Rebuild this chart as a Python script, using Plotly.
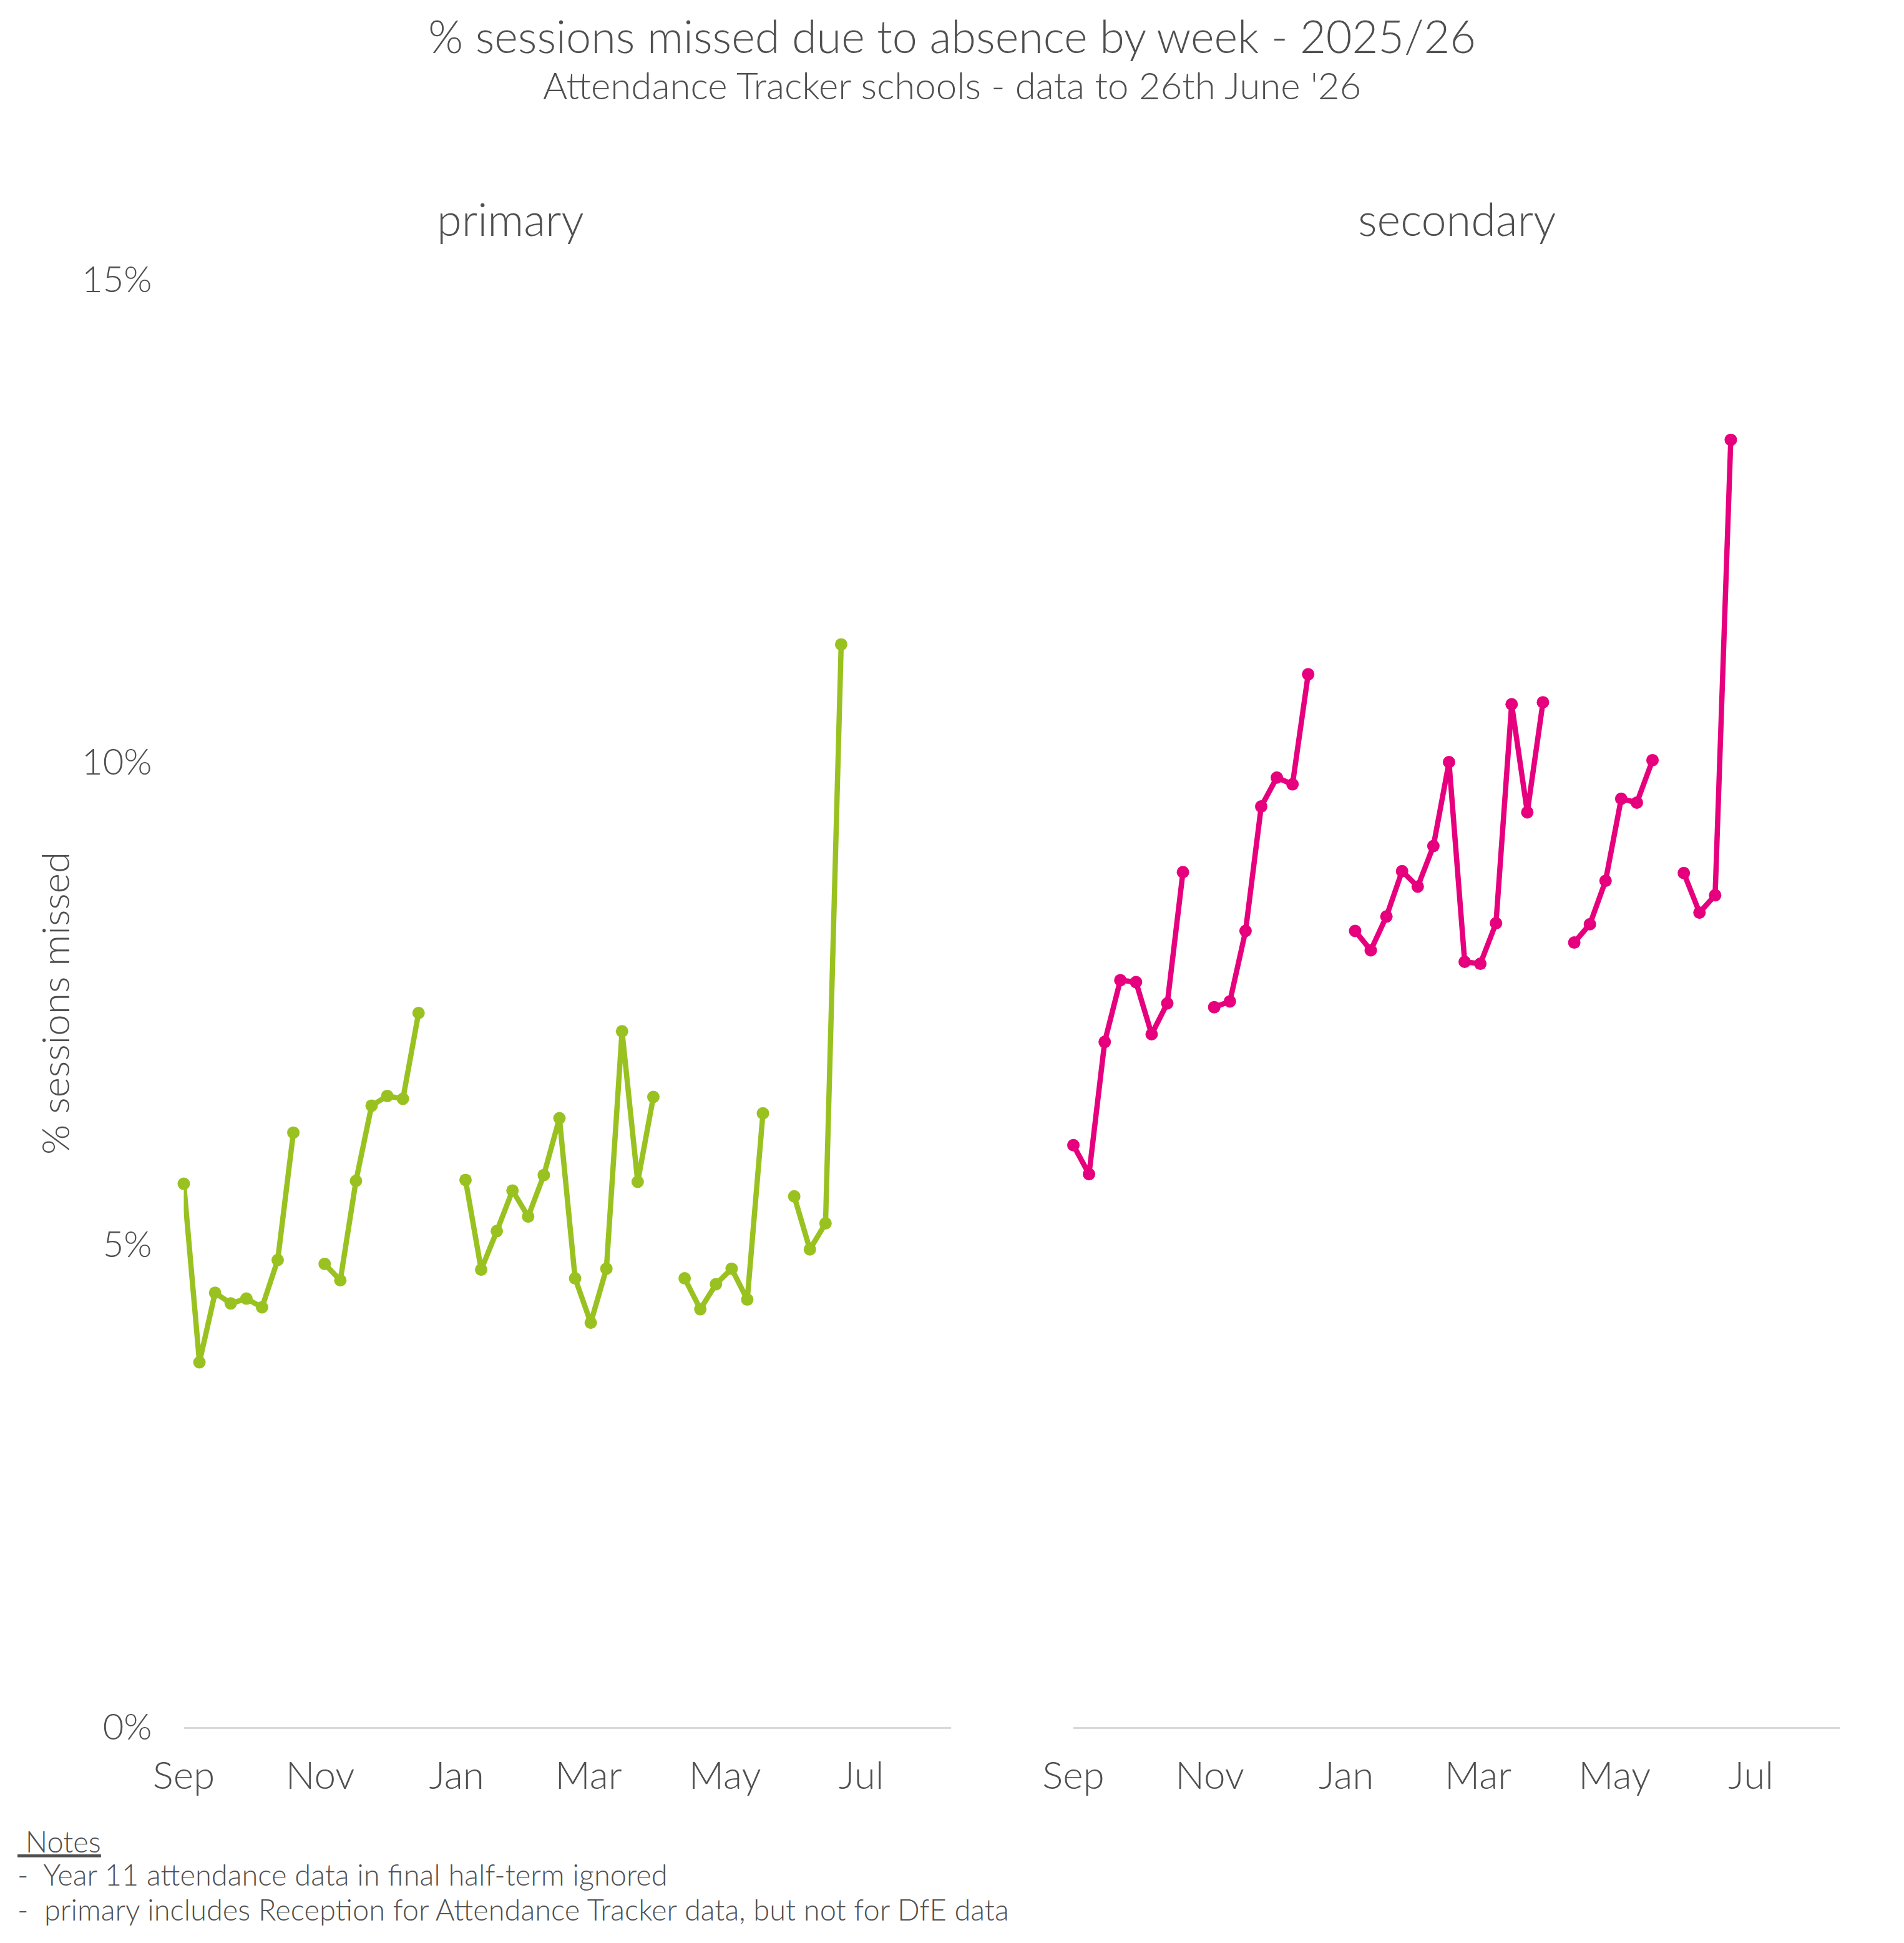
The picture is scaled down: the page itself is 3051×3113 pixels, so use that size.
import plotly.graph_objects as go

# Week commencing dates (None values = school holiday weeks)
weeks = [
    "2025-09-01", "2025-09-08", "2025-09-15", "2025-09-22", "2025-09-29", "2025-10-06",
    "2025-10-13", "2025-10-20", "2025-10-27", "2025-11-03", "2025-11-10", "2025-11-17",
    "2025-11-24", "2025-12-01", "2025-12-08", "2025-12-15", "2025-12-22", "2025-12-29",
    "2026-01-05", "2026-01-12", "2026-01-19", "2026-01-26", "2026-02-02", "2026-02-09",
    "2026-02-16", "2026-02-23", "2026-03-02", "2026-03-09", "2026-03-16", "2026-03-23",
    "2026-03-30", "2026-04-06", "2026-04-13", "2026-04-20", "2026-04-27", "2026-05-04",
    "2026-05-11", "2026-05-18", "2026-05-25", "2026-06-01", "2026-06-08", "2026-06-15",
    "2026-06-22",
]

primary = [
    5.63, 3.78, 4.50, 4.39, 4.44, 4.35, 4.84, 6.16, None,
    4.80, 4.63, 5.66, 6.44, 6.54, 6.51, 7.40, None, None,
    5.67, 4.74, 5.14, 5.56, 5.29, 5.72, 6.31, 4.65, 4.19, 4.75, 7.21, 5.65, 6.53, None,
    4.65, 4.33, 4.59, 4.75, 4.43, 6.36, None,
    5.50, 4.95, 5.22, 11.22,
]

secondary = [
    6.03, 5.73, 7.10, 7.74, 7.72, 7.18, 7.50, 8.86, None,
    7.46, 7.52, 8.25, 9.54, 9.84, 9.77, 10.91, None, None,
    8.25, 8.05, 8.40, 8.87, 8.71, 9.13, 10.00, 7.93, 7.91, 8.33, 10.60, 9.48, 10.62, None,
    8.13, 8.32, 8.77, 9.62, 9.58, 10.02, None,
    8.85, 8.44, 8.62, 13.34,
]

panel_names = ["primary", "secondary"]
colors = ["#99C221", "#E6007E"]
y_ticks = [0, 5, 10, 15]
y_ticklabels = ["0%", "5%", "10%", "15%"]

title_text = "% sessions missed due to absence by week - 2025/26"
subtitle_text = "Attendance Tracker schools - data to 26th June '26"
y_title = "% sessions missed"
notes = [
    "<u>\u00a0Notes</u>",
    "-\u00a0 Year 11 attendance data in final half-term ignored",
    "-\u00a0 primary includes Reception for Attendance Tracker data, but not for DfE data",
]

FONT = "Lato"
GREY = "#4F4F4F"
W, H = 3051, 3113

fig = go.Figure()
for i, (vals, col) in enumerate(zip([primary, secondary], colors)):
    fig.add_trace(go.Scatter(
        x=weeks, y=vals, mode="lines+markers",
        line=dict(color=col, width=8.5),
        marker=dict(color=col, size=20),
        connectgaps=False, cliponaxis=False, showlegend=False,
        xaxis="x" if i == 0 else "x2", yaxis="y" if i == 0 else "y2",
    ))

ydom = [(H - 2767) / H, (H - 448) / H]
xdoms = [[294.5 / W, 1523.5 / W], [1720 / W, 2949 / W]]

xcommon = dict(
    type="date", range=["2025-09-01", "2026-08-10"], dtick="M2", tick0="2025-09-01",
    tickformat="%b", showgrid=False, zeroline=False, showline=True, automargin=False,
    linecolor="#D9D9D9", linewidth=3, ticks="", ticklabelstandoff=22,
    tickfont=dict(family=FONT, size=62, color=GREY, weight=300),
)
ycommon = dict(
    range=[0, 15], tickvals=y_ticks, ticktext=y_ticklabels, showgrid=False,
    zeroline=False, showline=False, ticks="", domain=ydom, automargin=False,
    tickfont=dict(family=FONT, size=58, color=GREY, weight=300),
)

fig.update_layout(
    width=W, height=H, margin=dict(l=0, r=0, t=0, b=0, pad=0, autoexpand=False),
    paper_bgcolor="white", plot_bgcolor="white",
    xaxis=dict(xcommon, domain=xdoms[0], anchor="y"),
    xaxis2=dict(xcommon, domain=xdoms[1], anchor="y2"),
    yaxis=dict(ycommon, anchor="x", ticklabelstandoff=50),
    yaxis2=dict(ycommon, anchor="x2", matches="y", showticklabels=False),
)

ann = [
    dict(text=title_text, x=0.5, y=1 - 57 / H, size=72),
    dict(text=subtitle_text, x=0.5, y=1 - 136 / H, size=60),
    dict(text=panel_names[0], x=818 / W, y=1 - 350 / H, size=72),
    dict(text=panel_names[1], x=(xdoms[1][0] + xdoms[1][1]) / 2, y=1 - 350 / H, size=72),
]
for a in ann:
    fig.add_annotation(text=a["text"], x=a["x"], y=a["y"], xref="paper", yref="paper",
                       xanchor="center", yanchor="middle", showarrow=False,
                       font=dict(family=FONT, size=a["size"], color=GREY, weight=300))

fig.add_annotation(text=y_title, x=87 / W, y=1 - 1608 / H, xref="paper", yref="paper",
                   xanchor="center", yanchor="middle", textangle=-90, showarrow=False,
                   font=dict(family=FONT, size=62, color=GREY, weight=300))

for t, yy in zip(notes, [2950, 3003, 3059]):
    fig.add_annotation(text=t, x=26 / W, y=1 - yy / H, xref="paper", yref="paper",
                       xanchor="left", yanchor="middle", showarrow=False,
                       font=dict(family=FONT, size=47, color=GREY, weight=300))

fig.write_html("out.html")
